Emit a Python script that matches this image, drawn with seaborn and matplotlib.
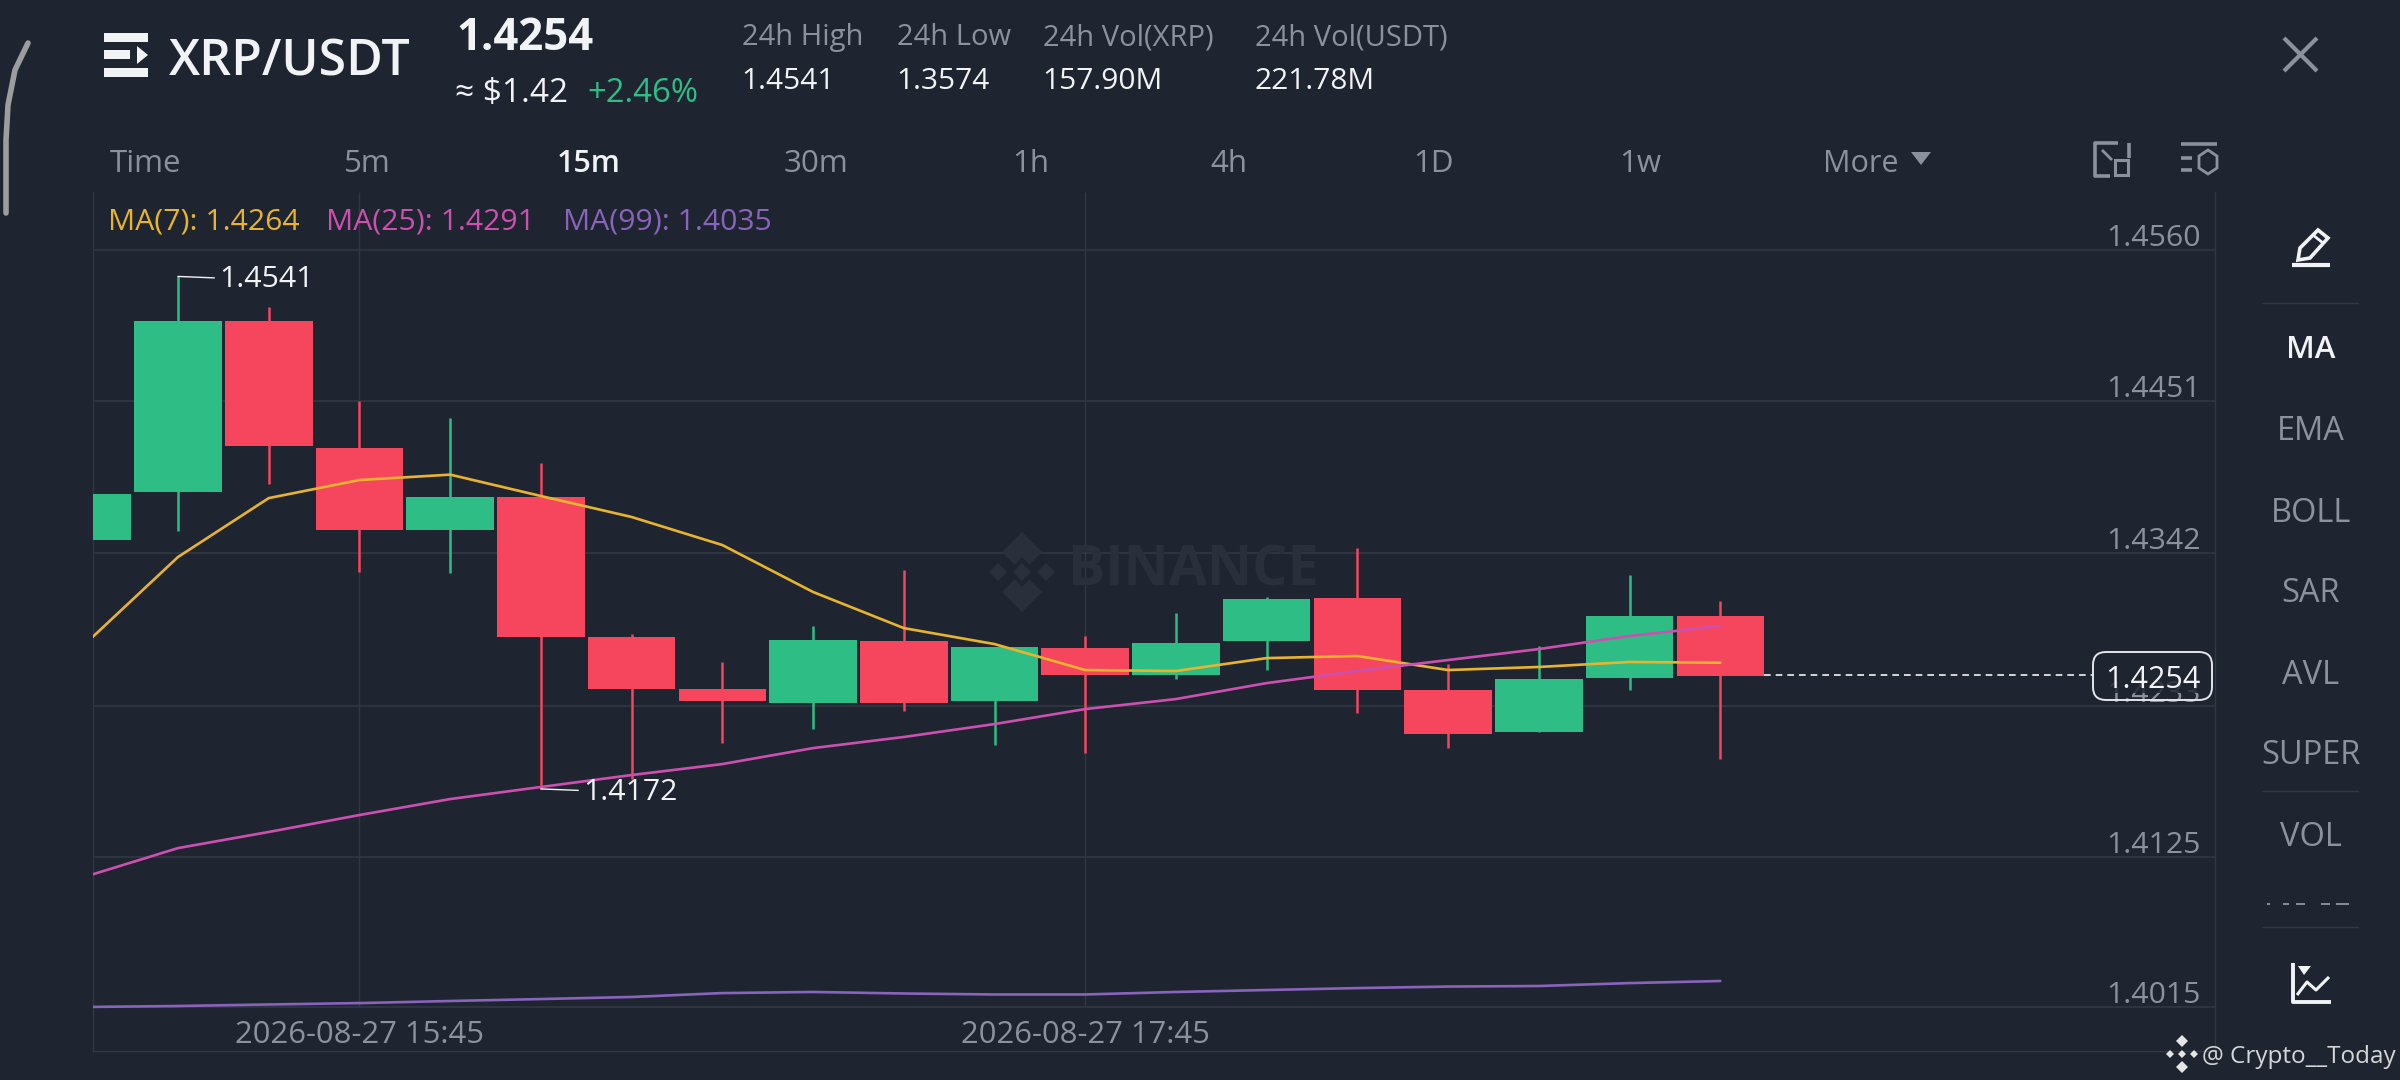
import numpy as np
import pandas as pd
import matplotlib
matplotlib.use("Agg")
import matplotlib.pyplot as plt
from matplotlib.patches import Rectangle, FancyBboxPatch, Polygon
from matplotlib.transforms import Affine2D
import seaborn as sns

# --- data ---
opens = [1.43515, 1.43858, 1.45086, 1.44174, 1.43587, 1.43822, 1.42814, 1.42442, 1.42341, 1.42785,
         1.42353, 1.42734, 1.42542, 1.42785, 1.43094, 1.42432, 1.42132, 1.42521, 1.42965]
closes = [1.43846, 1.45086, 1.44189, 1.43584, 1.43822, 1.42814, 1.42442, 1.42350, 1.42792, 1.42341,
          1.42742, 1.42542, 1.42770, 1.43087, 1.42432, 1.42117, 1.42511, 1.42965, 1.42533]
highs = [1.43846, 1.45410, 1.45190, 1.44515, 1.44394, 1.44066, 1.42838, 1.42634, 1.42893, 1.43296,
         1.42742, 1.42821, 1.42986, 1.43102, 1.43454, 1.42619, 1.42751, 1.43262, 1.43073]
lows = [1.43515, 1.43574, 1.43915, 1.43282, 1.43274, 1.41720, 1.41794, 1.42050, 1.42151, 1.42283,
        1.42038, 1.41978, 1.42511, 1.42578, 1.42269, 1.42017, 1.42132, 1.42432, 1.41937]
ma7 = [1.42778, 1.43390, 1.43814, 1.43944, 1.43983, 1.43829, 1.43678, 1.43476, 1.43138, 1.42878,
       1.42763, 1.42576, 1.42569, 1.42662, 1.42677, 1.42576, 1.42598, 1.42634, 1.42629]
ma25 = [1.41093, 1.41294, 1.41410, 1.41532, 1.41647, 1.41734, 1.41820, 1.41899, 1.42014, 1.42094,
        1.42187, 1.42295, 1.42367, 1.42482, 1.42569, 1.42648, 1.42727, 1.42821, 1.42893]
ma99 = [1.40150, 1.40157, 1.40168, 1.40178, 1.40193, 1.40207, 1.40222, 1.40250, 1.40258, 1.40247,
        1.40240, 1.40240, 1.40258, 1.40272, 1.40286, 1.40297, 1.40301, 1.40322, 1.40337]

grid_levels = [1.4560, 1.4451, 1.4342, 1.4232, 1.4123, 1.4015]
grid_labels = ["1.4560", "1.4451", "1.4342", "1.4233", "1.4125", "1.4015"]
time_ticks = [3, 11]
time_labels = ["2026-08-27 15:45", "2026-08-27 17:45"]
last_price = 1.4254
high_mark = 1.4541
low_mark = 1.4172
intervals = ["Time", "5m", "15m", "30m", "1h", "4h", "1D", "1w"]
indicators = ["MA", "EMA", "BOLL", "SAR", "AVL", "SUPER", "VOL"]

# --- colours ---
BG = "#1f2530"
GRID = "#323843"
GREEN = "#2ebd85"
RED = "#f6465d"
GREY = "#8b929e"
WHITE = "#f2f3f5"
MA_COLORS = {"MA(7)": "#e8b42e", "MA(25)": "#cd4fb0", "MA(99)": "#8a63bd"}

sns.set_theme(style="dark")
plt.rcParams["font.family"] = ["Open Sans", "DejaVu Sans"]

fig = plt.figure(figsize=(24, 10.8), dpi=100, facecolor=BG)
ax = fig.add_axes([93 / 2400, 1 - 1051 / 1080, (2215 - 93) / 2400, (1051 - 192) / 1080])
ax.set_facecolor(BG)
ax.set_xlim(0.063, 23.453)
ax.set_ylim(1.39833, 1.46018)

# grid
ax.set_yticks(grid_levels, grid_labels)
ax.set_xticks(time_ticks, time_labels)
ax.grid(False)
ax.hlines(grid_levels, *ax.get_xlim(), color=GRID, lw=1.2, zorder=1)
ax.vlines(time_ticks, grid_levels[-1], ax.get_ylim()[1], color=GRID, lw=1.0, zorder=1)
ax.tick_params(axis="x", length=0, pad=-22, labelsize=22.3, labelcolor=GREY)
ax.tick_params(axis="y", length=0, pad=-10, labelsize=21.8, labelcolor=GREY,
               labelleft=False, labelright=True)
for lab in ax.get_yticklabels():
    lab.set_ha("right")
    lab.set_va("bottom")
    lab.set_transform(lab.get_transform() + Affine2D().translate(0, -3))
for side in ["left", "right", "bottom"]:
    ax.spines[side].set_color(GRID)
    ax.spines[side].set_linewidth(1.0)
ax.spines["top"].set_visible(False)

# watermark behind candles
ax.text(0.4595, 0.5585, "BINANCE", transform=ax.transAxes, fontsize=40, fontweight="bold",
        color="#2a303b", ha="left", va="center", zorder=1.5)

# candles
idx = np.arange(len(opens))
o, c, h, l = map(np.array, (opens, closes, highs, lows))
colors = [GREEN if b >= a else RED for a, b in zip(o, c)]
ax.vlines(idx, l, h, colors=colors, lw=1.8, zorder=2)
ax.bar(idx, np.abs(c - o), bottom=np.minimum(o, c), width=0.965, color=colors, lw=0, zorder=3)

# moving averages
df = pd.DataFrame({"i": idx, "MA(7)": ma7, "MA(25)": ma25, "MA(99)": ma99})
long_df = df.melt(id_vars="i", var_name="ma", value_name="price")
sns.lineplot(data=long_df, x="i", y="price", hue="ma", palette=MA_COLORS, linewidth=1.9,
             legend=False, errorbar=None, ax=ax, zorder=4)
ax.set_xlabel("")
ax.set_ylabel("")

# current price line, high and low marks
ax.hlines(last_price, idx[-1] + 0.48, 22.1, color=WHITE, lw=1.2, ls=(0, (4, 3)), zorder=4)
ax.annotate("1.4541", xy=(1, high_mark), xytext=(41, 0), textcoords="offset pixels", color=WHITE,
            fontsize=21.8, va="center_baseline", ha="left", zorder=5,
            arrowprops=dict(arrowstyle="-", color=WHITE, lw=1.0, shrinkA=1, shrinkB=0))
ax.annotate("1.4172", xy=(5, low_mark), xytext=(42, 0), textcoords="offset pixels", color=WHITE,
            fontsize=21.8, va="center_baseline", ha="left", zorder=5,
            arrowprops=dict(arrowstyle="-", color=WHITE, lw=1.0, shrinkA=1, shrinkB=0))

# --- app chrome, overlay in pixel coordinates ---
ui = fig.add_axes([0, 0, 1, 1], facecolor="none")
ui.set_xlim(0, 2400)
ui.set_ylim(1080, 0)
ui.axis("off")


def label(x, y, s, size=19, color=GREY, weight="normal", ha="left"):
    ui.text(x, y, s, fontsize=size, color=color, fontweight=weight, ha=ha, va="center_baseline")


def seg(xs, ys, color=GREY, lw=2.0):
    ui.plot(xs, ys, color=color, lw=lw, solid_capstyle="butt")


def diamond(cx, cy, r, color, z=1):
    ui.add_patch(Polygon([[cx, cy - r], [cx + r, cy], [cx, cy + r], [cx - r, cy]], color=color, lw=0, zorder=z))


# scroll handle on the left edge
ui.plot([28, 15, 8, 6, 6], [43, 70, 105, 140, 213], color="#9c9d9f", lw=4)

# menu icon
for y0, w in [(33, 44), (68, 44)]:
    ui.add_patch(Rectangle((104, y0), w, 9, color=WHITE, lw=0))
ui.add_patch(Rectangle((104, 50), 26, 9, color=WHITE, lw=0))
ui.add_patch(Polygon([[137, 46], [148, 55], [137, 64]], color=WHITE, lw=0))

# header
label(169, 56, "XRP/USDT", size=36, color=WHITE, weight="semibold")
label(456, 33, "1.4254", size=31.5, color=WHITE, weight="bold")
label(455, 90, "≈ $1.42", size=24, color=WHITE, weight="medium")
label(587, 90, "+2.46%", size=23.7, color=GREEN, weight="medium")
for x, head, val in [(742, "24h High", "1.4541"), (897, "24h Low", "1.3574"),
                     (1043, "24h Vol(XRP)", "157.90M"), (1255, "24h Vol(USDT)", "221.78M")]:
    label(x, 34, head, size=21)
    label(x - 1, 78, val, size=21.5, color=WHITE, weight="medium")

# interval row
for x, s in zip([145, 367, 589, 816, 1031, 1229, 1433, 1640], intervals):
    if s == "15m":
        label(x, 160, s, size=22, color=WHITE, weight="semibold", ha="center")
    else:
        label(x, 160, s, size=22.5, ha="center")
label(1823, 160, "More", size=22)
ui.add_patch(Polygon([[1911, 152], [1931, 152], [1921, 165]], color=GREY, lw=0))

# expand icon
seg([2118, 2095, 2095, 2110], [143, 143, 176, 176], lw=2.6)
seg([2129, 2129], [143, 158], lw=2.6)
ui.add_patch(Rectangle((2115, 160), 13, 15, fill=False, ec=GREY, lw=2.2))
seg([2102, 2112], [150, 160], lw=2.0)
# settings icon
seg([2181, 2217], [144, 144], lw=2.6)
seg([2181, 2192], [158, 158], lw=2.6)
seg([2181, 2192], [170, 170], lw=2.6)
ui.add_patch(Polygon([[2208, 150], [2217, 156], [2217, 168], [2208, 174], [2199, 168], [2199, 156]],
                     fill=False, ec=GREY, lw=2.0))
# close
seg([2284, 2317], [38, 71], lw=3.0)
seg([2317, 2284], [38, 71], lw=3.0)

# MA legend
for x, name, val in [(108, "MA(7)", "1.4264"), (326, "MA(25)", "1.4291"), (563, "MA(99)", "1.4035")]:
    label(x, 219, f"{name}: {val}", size=21.7, color=MA_COLORS[name])

# last price box, the 1.4233 tick shows faintly through it
ui.add_patch(FancyBboxPatch((2100, 659), 105, 34, boxstyle="round,pad=0,rounding_size=10",
                            mutation_aspect=1, fc=BG, ec="none", alpha=0.82))
ui.add_patch(FancyBboxPatch((2093, 652), 119, 48, boxstyle="round,pad=0,rounding_size=13",
                            fc="none", ec="#e3e5e8", lw=1.4))
label(2201, 677, "1.4254", size=22, color=WHITE, ha="right")

# indicator column
ui.plot([2262, 2358], [303, 303], color=GRID, lw=1)
ui.plot([2262, 2358], [791, 791], color=GRID, lw=1)
ui.plot([2262, 2358], [927, 927], color=GRID, lw=1)
for y, s in zip([346, 428, 509, 590, 672, 752, 834], indicators):
    if s == "MA":
        label(2311, y, s, size=22.5, color=WHITE, weight="semibold", ha="center")
    else:
        label(2311, y, s, size=23.5, ha="center")
for x0, x1 in [(2267, 2270), (2283, 2289), (2296, 2305), (2321, 2330), (2336, 2349)]:
    seg([x0, x1], [904, 904], color="#9aa0a9", lw=1.2)

# pencil
ui.add_patch(Polygon([[2298, 260], [2300, 248], [2318, 230], [2328, 238], [2310, 258]],
                     fill=False, ec=WHITE, lw=2.6))
seg([2313, 2323], [235, 243], color=WHITE, lw=2.0)
seg([2292, 2330], [265, 265], color=WHITE, lw=3.0)
# chart icon
seg([2293, 2293, 2331], [963, 1002, 1002], color=WHITE, lw=2.8)
seg([2297, 2307, 2316, 2329], [995, 982, 990, 977], color=WHITE, lw=2.2)
ui.add_patch(Polygon([[2298, 966], [2311, 966], [2304, 975]], color=WHITE, lw=0))

# BINANCE logo, low contrast
logo = "#2a303b"
diamond(1022, 552, 20, logo)
diamond(1022, 592, 20, logo)
diamond(1022, 572, 15, BG, z=2)
diamond(1022, 572, 9, logo, z=3)
diamond(998, 572, 9, logo)
diamond(1046, 572, 9, logo)

# post watermark
for cx, cy, r in [(2182, 1041, 6), (2182, 1054, 4), (2170, 1054, 4), (2194, 1054, 4), (2182, 1067, 6)]:
    diamond(cx, cy, r, "#e5e5e5")
label(2202, 1054, "@ Crypto__Today", size=17.5, color="#d5d6d8")

fig.savefig("out.png", dpi=100, facecolor=BG)
